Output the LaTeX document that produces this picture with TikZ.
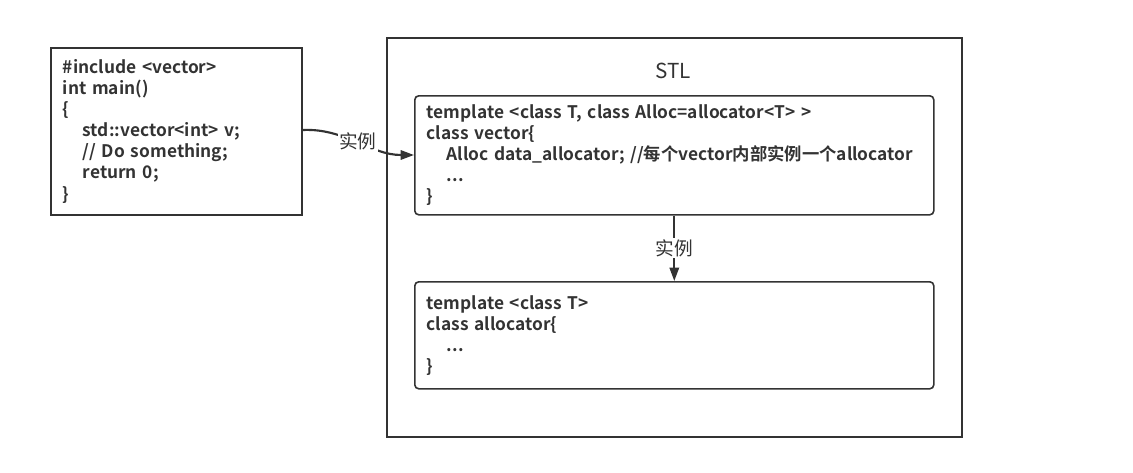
\documentclass[tikz,border=0pt]{standalone}
\usepackage{fontspec}
\setmainfont{Noto Sans CJK SC}[BoldFont={Noto Sans CJK SC Bold}]
\usepackage{tikz}
\usetikzlibrary{arrows.meta, positioning}

\definecolor{inkgray}{HTML}{333333}

\tikzset{
    codebox/.style={draw=inkgray, line width=1.2pt, anchor=north west, inner xsep=9pt,
        align=left, font=\bfseries\fontsize{13}{15.8}\selectfont, text=inkgray},
    stlbox/.style={draw=inkgray, line width=1.2pt, anchor=north west},
    arrowlabel/.style={fill=white, inner sep=1pt, font=\fontsize{14}{16}\selectfont, text=inkgray},
    linkarrow/.style={draw=inkgray, line width=1.6pt, -{Triangle[length=10pt, width=7pt]}}
}

\newcommand{\ind}{\hspace*{15pt}}

\begin{document}
\begin{tikzpicture}[x=0.75pt, y=-0.75pt]
        \useasboundingbox (0, 0) rectangle (1133, 472);

        % outer STL frame
        \node[stlbox, minimum width=575*0.75pt, minimum height=399*0.75pt] (stl) at (386, 37) {};
        \node[text=inkgray, font=\fontsize{15.5}{18}\selectfont] (stltitle) at (673, 71) {STL};

        % user code
        \node[codebox, text width=251*0.75pt-18pt, minimum height=167*0.75pt] (usercode) at (50, 47)
            {\#include <vector>\\
             int main()\\
             \{\\
             \ind std::vector<int> v;\\
             \ind // Do something;\\
             \ind return 0;\\
             \}};

        % class templates
        \node[codebox, rounded corners=3pt, text width=519*0.75pt-18pt, minimum height=119*0.75pt] (vectorcls) at (414, 95)
            {template <class T, class Alloc=allocator<T> >\\
             class vector\{\\
             \ind Alloc data\_allocator; //每个vector内部实例一个allocator\\
             \ind ...\\
             \}};
        \node[codebox, rounded corners=3pt, text width=519*0.75pt-18pt, minimum height=107*0.75pt] (alloccls) at (414, 281)
            {template <class T>\\
             class allocator\{\\
             \ind ...\\
             \}};

        \coordinate (start) at (usercode.east |- 0, 130);
        \coordinate (tip) at (vectorcls.west |- 0, 155);

        \draw[linkarrow] (start) .. controls (345, 128) and (370, 155) .. (tip)
            node[arrowlabel, pos=0.5] (inst1) {实例};
        \draw[linkarrow] (vectorcls.south) -- (alloccls.north)
            node[arrowlabel, midway] (inst2) {实例};

    \end{tikzpicture}
\end{document}
